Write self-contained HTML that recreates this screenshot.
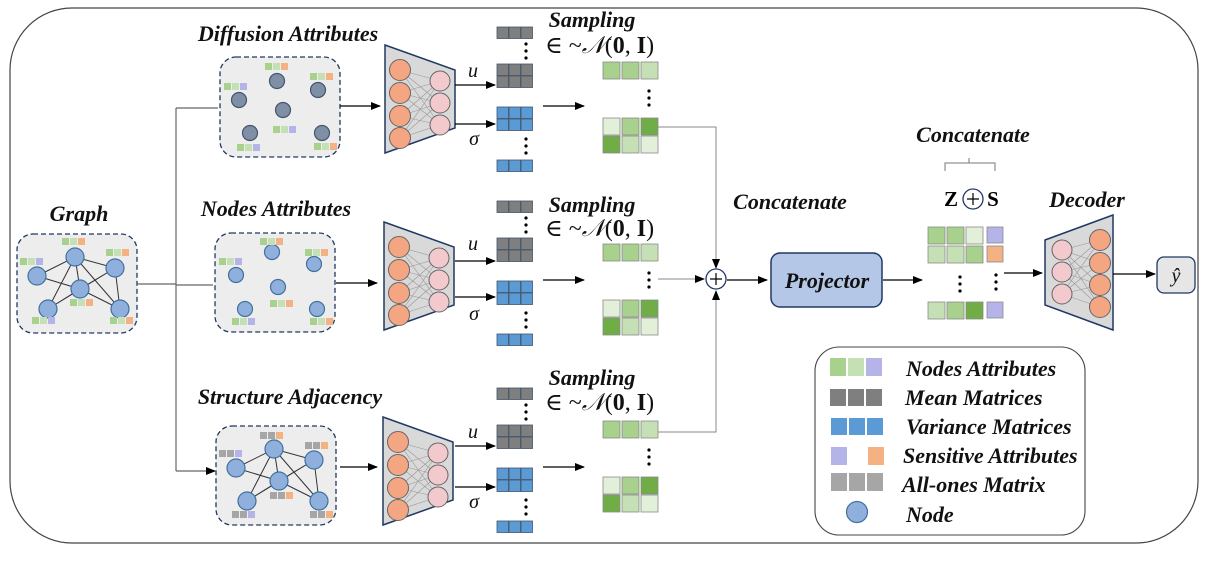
<!DOCTYPE html>
<html><head><meta charset="utf-8"><style>
body{margin:0;background:#fff}
svg{display:block}
.l{font-family:"Liberation Serif",serif;font-weight:bold;font-style:italic;font-size:22px;fill:#111}
.m{font-family:"Liberation Serif",serif;font-style:italic;font-size:20px;fill:#111}
.e{font-family:"Liberation Serif","DejaVu Serif",serif;font-size:24px;fill:#111}
</style></head><body>
<svg width="1209" height="569" viewBox="0 0 1209 569" xmlns="http://www.w3.org/2000/svg">
<defs>
<marker id="ar" markerWidth="10" markerHeight="8" refX="9" refY="4" orient="auto" markerUnits="userSpaceOnUse"><path d="M0,0 L10,4 L0,8 z" fill="#000"/></marker>
<g id="enc">
<path d="M0,0 L70,25 L70,83 L0,108 z" fill="#d9d9d9" stroke="#203864" stroke-width="1.5"/>
<g stroke="#999" stroke-width="0.6" fill="none">
<path d="M15,25 L55,36 M15,25 L55,58 M15,25 L55,80 M15,48 L55,36 M15,48 L55,58 M15,48 L55,80 M15,71 L55,36 M15,71 L55,58 M15,71 L55,80 M15,93 L55,36 M15,93 L55,58 M15,93 L55,80"/></g>
<g fill="#f4a582" stroke="#666" stroke-width="1"><circle cx="15" cy="25" r="10.5"/><circle cx="15" cy="48" r="10.5"/><circle cx="15" cy="71" r="10.5"/><circle cx="15" cy="93" r="10.5"/></g>
<g fill="#f2c9cc" stroke="#666" stroke-width="1"><circle cx="55" cy="36" r="10"/><circle cx="55" cy="58" r="10"/><circle cx="55" cy="80" r="10"/></g>
</g>
<g id="dec">
<path d="M0,25 L68,0 L68,115 L0,90 z" fill="#d9d9d9" stroke="#203864" stroke-width="1.5"/>
<g stroke="#999" stroke-width="0.6" fill="none"><path d="M17,35 L55,25 M17,35 L55,48 M17,35 L55,70 M17,35 L55,92 M17,57 L55,25 M17,57 L55,48 M17,57 L55,70 M17,57 L55,92 M17,79 L55,25 M17,79 L55,48 M17,79 L55,70 M17,79 L55,92"/></g>
<g fill="#f2c9cc" stroke="#666"><circle cx="17" cy="35" r="10"/><circle cx="17" cy="57" r="10"/><circle cx="17" cy="79" r="10"/></g>
<g fill="#f4a582" stroke="#666"><circle cx="55" cy="25" r="10.5"/><circle cx="55" cy="48" r="10.5"/><circle cx="55" cy="70" r="10.5"/><circle cx="55" cy="92" r="10.5"/></g>
</g>
<g id="dots"><circle cx="0" cy="0" r="1.6"/><circle cx="0" cy="7" r="1.6"/><circle cx="0" cy="14" r="1.6"/></g>
<g id="mv" stroke="#44546a" stroke-width="0.8">
<g fill="#7f7f7f"><rect x="0" y="0" width="11.5" height="11.5"/><rect x="12" y="0" width="11.5" height="11.5"/><rect x="24" y="0" width="11.5" height="11.5"/>
<rect x="0" y="37" width="11.5" height="11.5"/><rect x="12" y="37" width="11.5" height="11.5"/><rect x="24" y="37" width="11.5" height="11.5"/>
<rect x="0" y="49" width="11.5" height="11.5"/><rect x="12" y="49" width="11.5" height="11.5"/><rect x="24" y="49" width="11.5" height="11.5"/></g>
<g fill="#5b9bd5"><rect x="0" y="80" width="11.5" height="11.5"/><rect x="12" y="80" width="11.5" height="11.5"/><rect x="24" y="80" width="11.5" height="11.5"/>
<rect x="0" y="92" width="11.5" height="11.5"/><rect x="12" y="92" width="11.5" height="11.5"/><rect x="24" y="92" width="11.5" height="11.5"/>
<rect x="0" y="133" width="11.5" height="11.5"/><rect x="12" y="133" width="11.5" height="11.5"/><rect x="24" y="133" width="11.5" height="11.5"/></g>
<g stroke="none" fill="#000"><use href="#dots" x="29" y="17"/><use href="#dots" x="29" y="112"/></g>
</g>
<g id="smp" stroke="#8a8a8a" stroke-width="0.8">
<rect x="0" y="0" width="17" height="17" fill="#a9d18e"/><rect x="19" y="0" width="17" height="17" fill="#a9d18e"/><rect x="38" y="0" width="17" height="17" fill="#c5e0b4"/>
<rect x="0" y="56" width="17" height="17" fill="#e2f0d9"/><rect x="19" y="56" width="17" height="17" fill="#a9d18e"/><rect x="38" y="56" width="17" height="17" fill="#70ad47"/>
<rect x="0" y="74" width="17" height="17" fill="#70ad47"/><rect x="19" y="74" width="17" height="17" fill="#c5e0b4"/><rect x="38" y="74" width="17" height="17" fill="#e2f0d9"/>
<g stroke="none" fill="#000"><use href="#dots" x="46" y="29"/></g>
</g>
<g id="sa"><rect x="0" y="0" width="7" height="7" fill="#a9d18e"/><rect x="8" y="0" width="7" height="7" fill="#c5e0b4"/><rect x="16" y="0" width="7" height="7" fill="#f4b183"/></g>
<g id="sb"><rect x="0" y="0" width="7" height="7" fill="#a9d18e"/><rect x="8" y="0" width="7" height="7" fill="#c5e0b4"/><rect x="16" y="0" width="7" height="7" fill="#b4b4e8"/></g>
<g id="sc"><rect x="0" y="0" width="7" height="7" fill="#a6a6a6"/><rect x="8" y="0" width="7" height="7" fill="#a6a6a6"/><rect x="16" y="0" width="7" height="7" fill="#f4b183"/></g>
<g id="sd"><rect x="0" y="0" width="7" height="7" fill="#a6a6a6"/><rect x="8" y="0" width="7" height="7" fill="#a6a6a6"/><rect x="16" y="0" width="7" height="7" fill="#b4b4e8"/></g>
<g id="gbox">
<rect x="0" y="0" width="120" height="99" rx="16" fill="#ededed" stroke="#203864" stroke-width="1.3" stroke-dasharray="5,3"/>
<g stroke="#333" stroke-width="1" fill="none"><path d="M20,42 L58,23 L98,34 L103,75 M20,42 L63,55 L103,75 M58,23 L63,55 M58,23 L31,75 M58,23 L103,75 M98,34 L63,55 M98,34 L31,75 M31,75 L63,55"/></g>
<g fill="#8fb0dd" stroke="#41719c" stroke-width="1.2"><circle cx="20" cy="42" r="9"/><circle cx="58" cy="23" r="9"/><circle cx="98" cy="34" r="9"/><circle cx="63" cy="55" r="9"/><circle cx="31" cy="75" r="9"/><circle cx="103" cy="75" r="9"/></g>
</g>
</defs>

<rect x="10" y="8" width="1188" height="535" rx="62" fill="#fff" stroke="#444" stroke-width="1.2"/>

<!-- Graph -->
<text x="79" y="221" class="l" text-anchor="middle" font-size="23">Graph</text>
<use href="#gbox" x="17" y="234"/>
<use href="#sa" x="62" y="238"/><use href="#sa" x="106" y="249"/><use href="#sb" x="20" y="258"/><use href="#sa" x="70" y="299"/><use href="#sb" x="32" y="317"/><use href="#sa" x="110" y="317"/>

<!-- branch lines -->
<path d="M137,284 L176,284 M176,108 L176,471" stroke="#666" stroke-width="1.2" fill="none"/>
<path d="M176,108 L218,108 M176,285 L213,285 M176,471 L215,471" stroke="#666" stroke-width="1.2" marker-end="url(#ar)"/>

<!-- Branch 1 -->
<text x="288" y="41" class="l" text-anchor="middle">Diffusion Attributes</text>
<rect x="220" y="57" width="120" height="100" rx="16" fill="#ededed" stroke="#203864" stroke-width="1.3" stroke-dasharray="5,3"/>
<g fill="#7f8fa6" stroke="#44546a" stroke-width="1.2"><circle cx="239" cy="100" r="7.5"/><circle cx="277" cy="81" r="7.5"/><circle cx="318" cy="90" r="7.5"/><circle cx="283" cy="110" r="7.5"/><circle cx="250" cy="133" r="7.5"/><circle cx="322" cy="133" r="7.5"/></g>
<use href="#sa" x="265" y="63"/><use href="#sa" x="310" y="73"/><use href="#sb" x="224" y="83"/><use href="#sb" x="273" y="126"/><use href="#sb" x="237" y="144"/><use href="#sa" x="314" y="143"/>
<line x1="340" y1="106" x2="380" y2="106" stroke="#000" stroke-width="1.3" marker-end="url(#ar)"/>
<use href="#enc" x="385" y="45"/>
<use href="#mv" x="497" y="27"/>
<line x1="455" y1="85" x2="495" y2="85" stroke="#000" stroke-width="1.3" marker-end="url(#ar)"/>
<line x1="455" y1="124" x2="495" y2="124" stroke="#000" stroke-width="1.3" marker-end="url(#ar)"/>
<text x="473" y="77" class="m" text-anchor="middle">u</text>
<text x="474" y="145" class="m" text-anchor="middle">σ</text>
<line x1="543" y1="106" x2="584" y2="106" stroke="#000" stroke-width="1.3" marker-end="url(#ar)"/>
<text x="592" y="27" class="l" text-anchor="middle" font-size="23">Sampling</text>
<text x="545" y="53" class="e">∈ ~<tspan font-style="italic">𝒩</tspan>(<tspan font-weight="bold">0</tspan>, <tspan font-weight="bold">I</tspan>)</text>
<use href="#smp" x="603" y="62"/>
<path d="M658,127 L716,127 L716,268" stroke="#888" stroke-width="1" fill="none" marker-end="url(#ar)"/>

<!-- Branch 2 -->
<text x="276" y="216" class="l" text-anchor="middle">Nodes Attributes</text>
<rect x="215" y="233" width="120" height="99" rx="16" fill="#ededed" stroke="#203864" stroke-width="1.3" stroke-dasharray="5,3"/>
<g fill="#8fb0dd" stroke="#41719c" stroke-width="1.2"><circle cx="236" cy="275" r="7.5"/><circle cx="272" cy="252" r="7.5"/><circle cx="314" cy="264" r="7.5"/><circle cx="278" cy="287" r="7.5"/><circle cx="245" cy="309" r="7.5"/><circle cx="317" cy="309" r="7.5"/></g>
<use href="#sa" x="260" y="238"/><use href="#sa" x="305" y="249"/><use href="#sb" x="219" y="258"/><use href="#sa" x="270" y="300"/><use href="#sb" x="232" y="318"/><use href="#sa" x="310" y="318"/>
<line x1="336" y1="283" x2="377" y2="283" stroke="#000" stroke-width="1.3" marker-end="url(#ar)"/>
<use href="#enc" x="384" y="222"/>
<use href="#mv" x="497" y="201"/>
<line x1="455" y1="261" x2="495" y2="261" stroke="#000" stroke-width="1.3" marker-end="url(#ar)"/>
<line x1="455" y1="297" x2="495" y2="297" stroke="#000" stroke-width="1.3" marker-end="url(#ar)"/>
<text x="473" y="250" class="m" text-anchor="middle">u</text>
<text x="474" y="320" class="m" text-anchor="middle">σ</text>
<line x1="543" y1="280" x2="584" y2="280" stroke="#000" stroke-width="1.3" marker-end="url(#ar)"/>
<text x="592" y="212" class="l" text-anchor="middle" font-size="23">Sampling</text>
<text x="545" y="236" class="e">∈ ~<tspan font-style="italic">𝒩</tspan>(<tspan font-weight="bold">0</tspan>, <tspan font-weight="bold">I</tspan>)</text>
<use href="#smp" x="603" y="244"/>
<line x1="658" y1="279" x2="704" y2="279" stroke="#888" stroke-width="1" marker-end="url(#ar)"/>

<!-- Branch 3 -->
<text x="290" y="404" class="l" text-anchor="middle">Structure Adjacency</text>
<use href="#gbox" x="216" y="426"/>
<use href="#sc" x="260" y="432"/><use href="#sc" x="305" y="442"/><use href="#sd" x="219" y="450"/><use href="#sc" x="270" y="492"/><use href="#sd" x="232" y="511"/><use href="#sc" x="310" y="511"/>
<line x1="340" y1="467" x2="377" y2="467" stroke="#000" stroke-width="1.3" marker-end="url(#ar)"/>
<use href="#enc" x="383" y="417"/>
<use href="#mv" x="497" y="388"/>
<line x1="455" y1="446" x2="495" y2="446" stroke="#000" stroke-width="1.3" marker-end="url(#ar)"/>
<line x1="455" y1="487" x2="495" y2="487" stroke="#000" stroke-width="1.3" marker-end="url(#ar)"/>
<text x="473" y="438" class="m" text-anchor="middle">u</text>
<text x="474" y="508" class="m" text-anchor="middle">σ</text>
<line x1="543" y1="467" x2="584" y2="467" stroke="#000" stroke-width="1.3" marker-end="url(#ar)"/>
<text x="592" y="385" class="l" text-anchor="middle" font-size="23">Sampling</text>
<text x="545" y="410" class="e">∈ ~<tspan font-style="italic">𝒩</tspan>(<tspan font-weight="bold">0</tspan>, <tspan font-weight="bold">I</tspan>)</text>
<use href="#smp" x="603" y="421"/>
<path d="M658,432 L716,432 L716,291" stroke="#888" stroke-width="1" fill="none" marker-end="url(#ar)"/>

<!-- concat -->
<circle cx="716" cy="279" r="10" fill="#fff" stroke="#203864" stroke-width="1.3"/>
<path d="M710,279 L722,279 M716,273 L716,285" stroke="#000" stroke-width="1.2"/>
<text x="790" y="209" class="l" text-anchor="middle">Concatenate</text>
<line x1="727" y1="280" x2="767" y2="280" stroke="#000" stroke-width="1.3" marker-end="url(#ar)"/>
<rect x="771" y="253" width="111" height="54" rx="9" fill="#b4c7e7" stroke="#203864" stroke-width="1.5"/>
<text x="827" y="288" class="l" text-anchor="middle" font-size="23">Projector</text>
<line x1="883" y1="280" x2="922" y2="280" stroke="#000" stroke-width="1.3" marker-end="url(#ar)"/>

<text x="973" y="142" class="l" text-anchor="middle">Concatenate</text>
<path d="M945,171 L945,163 L969,163 L969,158 M969,163 L995,163 L995,171" stroke="#777" stroke-width="1" fill="none"/>
<text x="951" y="206" font-family="Liberation Serif,serif" font-weight="bold" font-size="21" text-anchor="middle">Z</text>
<circle cx="973" cy="199" r="10" fill="#fff" stroke="#203864" stroke-width="1.3"/>
<path d="M967,199 L979,199 M973,193 L973,205" stroke="#000" stroke-width="1.2"/>
<text x="993" y="206" font-family="Liberation Serif,serif" font-weight="bold" font-size="21" text-anchor="middle">S</text>
<g stroke="#8a8a8a" stroke-width="0.8">
<rect x="928" y="227" width="17" height="17" fill="#a9d18e"/><rect x="947" y="227" width="17" height="17" fill="#a9d18e"/><rect x="966" y="227" width="17" height="17" fill="#e2f0d9"/><rect x="987" y="227" width="16" height="16" fill="#b4b4e8"/>
<rect x="928" y="246" width="17" height="17" fill="#c5e0b4"/><rect x="947" y="246" width="17" height="17" fill="#c5e0b4"/><rect x="966" y="246" width="17" height="17" fill="#a9d18e"/><rect x="987" y="246" width="16" height="16" fill="#f4b183"/>
<rect x="928" y="302" width="17" height="17" fill="#c5e0b4"/><rect x="947" y="302" width="17" height="17" fill="#a9d18e"/><rect x="966" y="302" width="17" height="17" fill="#70ad47"/><rect x="987" y="302" width="16" height="16" fill="#b4b4e8"/>
</g>
<g fill="#000"><use href="#dots" x="960" y="277"/><use href="#dots" x="996" y="275"/></g>
<line x1="1004" y1="273" x2="1042" y2="273" stroke="#000" stroke-width="1.3" marker-end="url(#ar)"/>
<text x="1087" y="207" class="l" text-anchor="middle" font-size="24">Decoder</text>
<use href="#dec" x="1045" y="215"/>
<line x1="1113" y1="274" x2="1155" y2="274" stroke="#000" stroke-width="1.3" marker-end="url(#ar)"/>
<rect x="1157" y="257" width="38" height="36" rx="7" fill="#e6e6e6" stroke="#203864" stroke-width="1.3"/>
<text x="1176" y="282" class="m" text-anchor="middle">ŷ</text>

<!-- legend -->
<rect x="815" y="347" width="270" height="188" rx="24" fill="#fff" stroke="#444" stroke-width="1.1"/>
<rect x="830" y="358" width="16" height="18" fill="#a9d18e"/><rect x="848" y="358" width="16" height="18" fill="#c5e0b4"/><rect x="866" y="358" width="16" height="18" fill="#b4b4e8"/>
<rect x="830" y="389" width="16" height="17" fill="#7f7f7f"/><rect x="848" y="389" width="16" height="17" fill="#7f7f7f"/><rect x="866" y="389" width="16" height="17" fill="#7f7f7f"/>
<rect x="831" y="418" width="16" height="17" fill="#5b9bd5"/><rect x="849" y="418" width="16" height="17" fill="#5b9bd5"/><rect x="867" y="418" width="16" height="17" fill="#5b9bd5"/>
<rect x="831" y="447" width="16" height="18" fill="#b4b4e8"/><rect x="868" y="447" width="16" height="18" fill="#f4b183"/>
<rect x="831" y="473" width="16" height="18" fill="#a6a6a6"/><rect x="849" y="473" width="16" height="18" fill="#a6a6a6"/><rect x="867" y="473" width="16" height="18" fill="#a6a6a6"/>
<circle cx="857" cy="512" r="10.5" fill="#8fb0dd" stroke="#41719c" stroke-width="1.2"/>
<text x="906" y="376" class="l" font-size="23.5">Nodes Attributes</text>
<text x="905" y="405" class="l" font-size="23.5">Mean Matrices</text>
<text x="906" y="434" class="l" font-size="23.5">Variance Matrices</text>
<text x="903" y="463" class="l" font-size="23.5">Sensitive Attributes</text>
<text x="902" y="492" class="l" font-size="23.5">All-ones Matrix</text>
<text x="906" y="522" class="l" font-size="23.5">Node</text>
</svg>
</body></html>
